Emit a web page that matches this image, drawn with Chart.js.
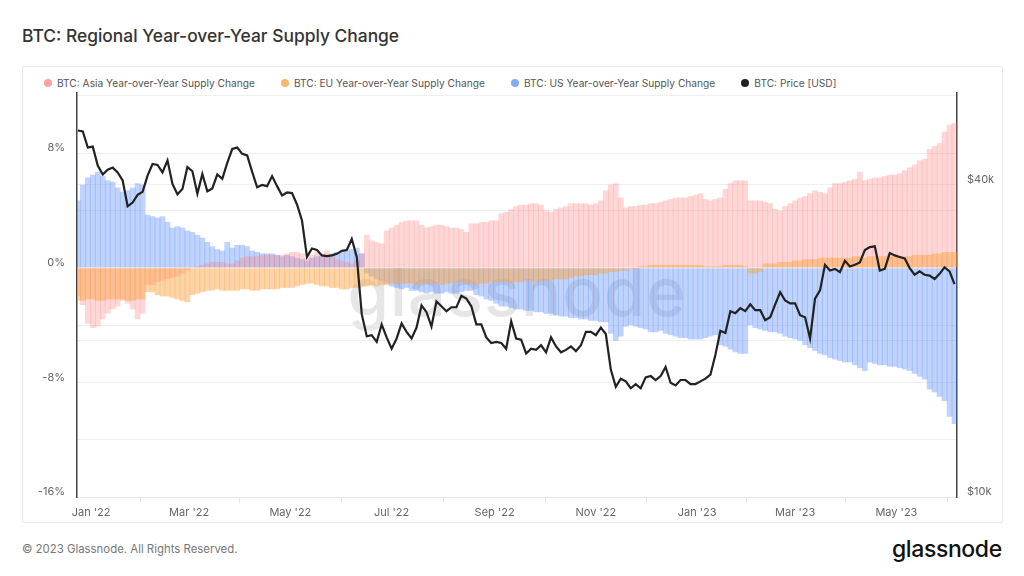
<!DOCTYPE html>
<html>
<head>
<meta charset="utf-8">
<script src="https://cdn.jsdelivr.net/npm/chart.js@4.4.0/dist/chart.umd.min.js"></script>
<style>
html,body{margin:0;padding:0;background:#fff;width:1024px;height:576px;overflow:hidden;font-family:Inter,"Noto Sans",sans-serif;}
#title{position:absolute;left:22px;top:25px;font-size:17.4px;font-weight:500;color:#333;white-space:nowrap;}
#box{position:absolute;left:22px;top:66px;width:979px;height:455px;border:1px solid #e8e8e8;border-radius:2px;}
#legend{position:absolute;left:44px;top:77px;display:flex;align-items:center;font-size:10.2px;color:#555;white-space:nowrap;}
#legend .it{display:flex;align-items:center;margin-right:26px;}
#legend .dot{width:8px;height:8px;border-radius:50%;margin-right:5px;}
#wm{position:absolute;left:77px;width:880px;top:251px;text-align:center;font-size:67px;font-weight:500;color:#e6e6e6;letter-spacing:1px;}
#wrap{position:absolute;left:22px;top:66px;width:981px;height:457px;}
#foot{position:absolute;left:22px;top:542px;font-size:11.4px;color:#777;}
#logo{position:absolute;left:892px;top:535px;font-size:23px;font-weight:500;color:#111;letter-spacing:-0.4px;}
</style>
</head>
<body>
<div id="title">BTC: Regional Year-over-Year Supply Change</div>
<div id="box"></div>
<div id="wm">glassnode</div>
<div id="legend"></div>
<div id="wrap"><canvas id="c"></canvas></div>
<div id="foot">© 2023 Glassnode. All Rights Reserved.</div>
<div id="logo">glassnode</div>
<script>
// ---- data (every 3 days starting 2021-12-24) ----
const startDate = '2021-12-24';
const stepDays = 3;
const seriesNames = ['BTC: Asia Year-over-Year Supply Change','BTC: EU Year-over-Year Supply Change','BTC: US Year-over-Year Supply Change','BTC: Price [USD]'];
const asiaPct = [-2.0,-2.6,-3.9,-4.2,-4.1,-3.6,-3.2,-2.9,-2.7,-2.3,-2.5,-2.9,-3.6,-3.2,
 -1.2,-1.2,-1.0,-0.9,-0.8,-0.7,-0.6,-0.4,-0.2,0.0,0.1,0.2,0.3,0.4,0.4,0.4,0.3,0.3,
 0.5,0.7,0.8,0.8,0.8,0.9,0.9,0.9,0.9,0.9,1.0,1.1,1.1,1.0,0.7,0.9,1.1,1.0,1.2,0.9,0.6,0.5,0.4,0.3,0.5,1.0,
 2.3,1.9,1.8,1.7,2.6,2.8,3.0,3.2,3.3,3.3,3.3,3.0,2.8,2.9,3.0,3.0,2.9,2.8,2.8,2.7,2.5,3.1,3.1,3.2,3.2,3.3,3.3,
 3.8,3.9,4.1,4.3,4.4,4.4,4.5,4.5,4.4,4.0,3.9,4.1,4.2,4.3,4.5,4.5,4.5,4.5,4.4,4.5,4.7,5.4,5.8,5.9,4.9,
 4.2,4.3,4.3,4.4,4.4,4.5,4.5,4.6,4.7,4.8,4.9,4.9,4.9,5.0,5.1,5.2,4.8,4.7,4.8,4.9,5.5,5.9,6.1,6.1,6.1,
 4.7,4.7,4.7,4.6,4.5,4.1,4.0,4.3,4.5,4.7,4.9,5.0,5.2,5.4,5.3,5.2,5.6,5.9,5.9,6.0,6.1,6.2,6.7,6.1,6.2,6.3,6.3,6.4,6.5,6.5,6.6,6.8,7.0,7.2,7.5,7.6,8.3,8.5,8.7,9.5,10.0,10.1];
const euPct = [-2.3,-2.3,-2.2,-2.2,-2.3,-2.3,-2.2,-2.2,-2.2,-2.2,-2.3,-2.3,-2.2,-2.2,
 -1.7,-1.7,-1.9,
 -2.0,-2.0,-2.1,-2.2,-2.3,-2.4,
 -1.9,-1.8,-1.7,-1.6,-1.6,-1.5,-1.6,-1.6,
 -1.6,-1.6,-1.5,-1.5,-1.6,-1.6,-1.5,-1.5,-1.5,-1.5,-1.4,-1.4,-1.4,-1.3,-1.2,
 -1.1,-1.1,-1.2,-1.3,-1.3,
 -1.4,-1.4,-1.5,-1.5,-1.4,-1.4,-1.3,
 -1.3,-1.2,-1.3,-1.2,-1.2,-1.1,
 -1.1,-1.1,-1.1,-1.1,-1.2,-1.1,-1.1,-1.1,-1.1,-1.2,-1.1,-1.1,-1.0,-1.0,-1.1,-1.1,-1.2,-1.1,-1.1,-1.0,
 -1.0,-1.0,-1.0,-1.1,-1.0,-1.0,-0.9,-0.9,-1.0,-0.9,-0.9,-0.9,-0.8,-0.8,-0.8,-0.7,
 -0.6,-0.6,-0.5,-0.5,-0.5,-0.4,-0.4,-0.3,-0.3,-0.2,-0.2,-0.1,-0.1,
 0.1,0.1,0.2,0.2,0.2,0.2,0.2,0.2,0.2,0.2,0.2,0.2,0.2,0.1,0.1,0.1,0.1,0.2,0.2,0.2,0.2,0.1,
 -0.4,-0.4,-0.3,
 0.3,0.3,0.3,0.4,0.4,0.4,0.5,
 0.5,0.6,0.6,0.6,0.7,0.7,0.7,0.7,0.7,0.7,0.7,0.8,0.8,0.7,
 0.8,0.8,0.8,0.8,0.8,0.8,0.8,0.8,0.8,0.9,0.9,0.9,0.9,1.0,
 1.0,1.1,1.1,1.1];
const usPct = [4.7,5.8,6.3,6.5,6.7,6.4,6.1,6.0,5.6,5.3,5.4,5.6,5.9,5.8,
 3.7,3.6,3.5,3.6,3.2,2.8,2.9,2.8,2.6,2.5,2.3,2.1,1.8,1.5,1.3,1.2,
 1.8,1.4,1.6,1.6,1.5,1.2,1.1,1.0,1.0,1.0,0.9,0.8,0.9,0.8,0.7,0.6,
 0.5,0.7,0.8,0.8,0.9,1.0,1.1,1.1,1.2,1.3,1.4,1.0,
 -0.4,-0.6,-0.8,-0.9,-1.1,-1.3,-1.4,-1.5,-1.4,-1.6,-1.6,-1.7,-1.8,-1.7,-1.8,-1.8,-1.7,-1.8,-1.8,-1.7,-1.6,-1.6,
 -1.9,-2.0,-2.2,-2.3,-2.5,-2.7,-2.7,-2.8,-2.9,-2.9,-3.0,-3.0,-3.1,-3.1,-3.2,-3.2,-3.3,-3.4,-3.4,-3.5,-3.5,-3.6,-3.6,-3.7,-3.7,-3.8,-3.8,
 -4.6,-5.1,-4.8,-4.1,-4.0,-4.1,-4.2,-4.3,-4.5,-4.5,-4.4,-4.6,-4.7,-4.8,-4.9,-4.9,-5.0,-5.0,-5.0,-4.9,-4.8,-4.7,-5.4,-5.5,-5.7,-5.9,-6.0,-6.0,
 -4.0,-4.2,-4.3,-4.4,-4.5,-4.5,-4.6,-4.8,-4.9,-5.0,-5.1,-5.4,-5.6,-5.8,-6.0,-6.1,-6.3,-6.4,-6.5,-6.6,-6.6,-6.8,-7.0,-7.2,-6.6,-6.7,-6.8,-6.8,-6.9,-6.9,-7.0,-7.1,-7.2,-7.4,-7.6,-7.8,-8.5,-8.7,-9.0,-9.3,-10.4,-10.9];
const priceK = [50.8,50.6,47.1,
 47.3,43.5,41.8,42.7,43.1,42.2,40.7,36.3,36.9,38.2,
 38.7,41.6,43.8,43.6,42.2,44.5,40.1,38.3,39.2,43.2,
 42.4,38.4,41.9,38.8,39.3,41.8,41.0,44.0,46.8,47.1,
 45.8,45.5,42.3,39.5,39.9,39.7,41.5,39.7,38.1,38.6,
 38.5,36.6,34.1,29.0,30.1,29.9,29.2,29.1,29.2,29.4,
 29.8,29.9,31.4,29.0,22.5,20.4,20.5,19.9,21.5,20.3,
 19.3,20.2,21.6,20.8,20.2,21.2,23.4,22.7,21.3,23.8,23.3,
 22.8,23.2,23.2,24.4,24.1,23.3,21.5,21.5,20.3,19.8,
 19.9,19.8,19.3,21.8,20.2,20.1,18.9,19.3,19.2,19.6,
 19.0,20.3,19.5,19.0,19.2,19.5,19.1,19.6,20.8,20.8,
 20.5,21.2,20.6,17.6,16.3,16.9,16.7,16.2,16.5,16.2,
 17.0,17.1,16.8,17.1,17.8,16.6,16.4,16.8,16.8,16.5,16.5,
 16.7,16.9,17.2,18.8,20.9,20.7,22.8,22.6,23.1,22.8,
 23.5,22.9,22.9,21.9,22.2,23.5,24.8,23.9,23.6,
 23.6,22.4,22.2,20.2,24.1,25.0,28.0,27.3,27.5,27.1,28.5,
 27.8,28.0,28.3,29.9,30.3,30.4,27.3,27.5,29.5,29.2,
 29.0,28.8,27.6,26.8,27.2,26.8,26.7,26.3,26.9,27.7,
 27.2,25.7];
const tickDates = ['2022-01-01','2022-03-01','2022-05-01','2022-07-01','2022-09-01','2022-11-01','2023-01-01','2023-03-01','2023-05-01'];
const tickLabels = ["Jan '22","Mar '22","May '22","Jul '22","Sep '22","Nov '22","Jan '23","Mar '23","May '23"];
const pctTicks = [-16,-12,-8,-4,0,4,8,12];
const priceTicks = [10000,20000,40000];
const seriesColors = ['#f7a3a3','#f8b870','#86a9f7','#222222'];

// ---- helpers ----
const DAY = 86400000;
const origin = Date.UTC(2022,0,1);
const dayOf = s => { const [y,m,d] = s.split('-').map(Number); return Math.round((Date.UTC(y,m-1,d)-origin)/DAY); };
const start = dayOf(startDate);
const xs = asiaPct.map((_,i)=> start + i*stepDays);
const pts = arr => arr.map((v,i)=>({x: xs[i], y: v}));

// legend (HTML)
const lg = document.getElementById('legend');
seriesNames.forEach((n,i)=>{
  const it=document.createElement('div'); it.className='it';
  const d=document.createElement('span'); d.className='dot'; d.style.background=seriesColors[i];
  const t=document.createElement('span'); t.textContent=n;
  it.appendChild(d); it.appendChild(t); lg.appendChild(it);
});

const barCommon = {type:'bar', yAxisID:'y', xAxisID:'x', grouped:false, barPercentage:1.15, categoryPercentage:1, borderWidth:0};
const tickFont = {family:'Inter, "Noto Sans", sans-serif', size:11};

new Chart(document.getElementById('c'), {
  type:'bar',
  data:{datasets:[
    Object.assign({label:seriesNames[0], data:pts(asiaPct), backgroundColor:'rgba(255,110,110,0.28)', order:2}, barCommon),
    Object.assign({label:seriesNames[1], data:pts(euPct), backgroundColor:'rgba(250,160,60,0.45)', order:1}, barCommon),
    Object.assign({label:seriesNames[2], data:pts(usPct), backgroundColor:'rgba(70,125,245,0.34)', order:3}, barCommon),
    {type:'line', label:seriesNames[3], data:pts(priceK.map(v=>v*1000)), yAxisID:'y2', xAxisID:'x', borderColor:'#222', borderWidth:2.2, pointRadius:0, tension:0, order:0}
  ]},
  options:{
    responsive:true, maintainAspectRatio:false, animation:false, devicePixelRatio:1,
    layout:{padding:{top:27,left:0,right:0,bottom:0}},
    plugins:{legend:{display:false}, tooltip:{enabled:false}},
    scales:{
      x:{type:'linear', min:-8.5, max:521.5, offset:false,
        afterBuildTicks:s=>{s.ticks = tickDates.map(d=>({value:dayOf(d)}));},
        afterFit:s=>{s.height=26;},
        ticks:{callback:(v,i)=>tickLabels[i], color:'#666', font:tickFont, padding:3, maxRotation:0, autoSkip:false},
        grid:{drawOnChartArea:false, drawTicks:true, tickLength:6, color:'#e6e6e6'},
        border:{color:'#e6e6e6'}
      },
      y:{type:'linear', position:'left', min:-16, max:12.2,
        afterBuildTicks:s=>{s.ticks = pctTicks.map(v=>({value:v}));},
        afterFit:s=>{s.width=55;},
        ticks:{callback:v=> (v%8===0 ? v+'%' : ''), color:'#666', font:tickFont, padding:12, labelOffset:-5},
        grid:{color:'#efefef', drawTicks:false},
        border:{color:'#444', width:1.5}
      },
      y2:{type:'logarithmic', position:'right', min:10000, max:60000,
        afterBuildTicks:s=>{s.ticks = priceTicks.map(v=>({value:v}));},
        afterFit:s=>{s.width=46;},
        ticks:{callback:v=> (v===20000 ? '' : '$'+(v/1000)+'k'), color:'#666', font:tickFont, padding:10, labelOffset:-5},
        grid:{color:'#efefef', drawTicks:false},
        border:{color:'#444', width:1.5}
      }
    }
  }
});
</script>
</body>
</html>
